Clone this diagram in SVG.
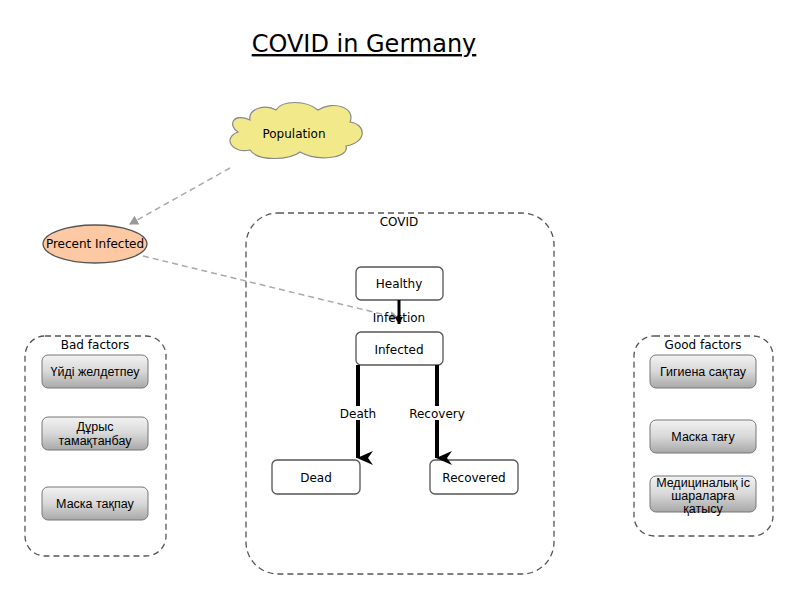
<svg xmlns="http://www.w3.org/2000/svg" width="800" height="594" viewBox="0 0 800 594">
<defs>
<linearGradient id="g" x1="0" y1="0" x2="0" y2="1"><stop offset="0" stop-color="#f2f2f2"/><stop offset="0.5" stop-color="#d8d8d8"/><stop offset="1" stop-color="#a8a8a8"/></linearGradient>
<marker id="ga" markerWidth="10" markerHeight="10" refX="8" refY="5" orient="auto" markerUnits="userSpaceOnUse"><path d="M0,0 L9,5 L0,10 Z" fill="#999"/></marker>
<marker id="ba" markerWidth="14" markerHeight="16" refX="7" refY="15" orient="auto-start-reverse" markerUnits="userSpaceOnUse" viewBox="0 0 14 16"><path d="M0,0 L7,16 L14,0 L7,5 Z" fill="#000"/></marker>
<marker id="sa" markerWidth="8" markerHeight="8" refX="4" refY="7" markerUnits="userSpaceOnUse"><path d="M0,0 L4,7 L8,0 Z" fill="#000"/></marker>
</defs>
<style>
text{font-family:"DejaVu Sans","Liberation Sans",sans-serif;font-size:12px;fill:#000;text-anchor:middle}
.box{fill:#fff;stroke:#555;stroke-width:1.3}
.grp{fill:none;stroke:#555;stroke-width:1.3;stroke-dasharray:6 4}
.btn{fill:url(#g);stroke:#777;stroke-width:1}
.bt{font-family:"Liberation Sans",Arial,sans-serif;font-size:12.5px}
.dash{fill:none;stroke:#aaa;stroke-width:1.5;stroke-dasharray:6 4}
.thick{fill:none;stroke:#000;stroke-width:4}
</style>
<text x="364" y="52" style="font-size:24px;text-decoration:underline">COVID in Germany</text>
<g id="covid"><rect class="grp" x="246" y="213" width="308" height="361" rx="32"/><text x="399" y="226">COVID</text></g>
<g id="bad"><rect class="grp" x="25" y="336" width="141" height="220" rx="20"/><text x="95" y="349">Bad factors</text></g>
<g id="good"><rect class="grp" x="634" y="336" width="139" height="200" rx="20"/><text x="703" y="349">Good factors</text></g>
<g id="population"><path d="M250,120 C232,112 228,126 238,132 C222,138 232,154 250,150 C258,162 290,160 300,152 C318,162 350,158 346,146 C368,142 366,124 350,122 C356,108 334,100 318,110 C306,100 282,100 276,110 C266,104 248,108 250,120 Z" fill="#f2e98a" stroke="#888" stroke-width="1.2"/><text x="294" y="138">Population</text></g>
<g id="precent"><ellipse cx="95" cy="244" rx="52" ry="19" fill="#fcc9a4" stroke="#555" stroke-width="1.3"/><text x="95" y="248">Precent Infected</text></g>
<g id="healthy"><rect class="box" x="356" y="267" width="87" height="33" rx="5"/><text x="399" y="288">Healthy</text></g>
<g id="infected"><rect class="box" x="356" y="332" width="87" height="33" rx="5"/><text x="399" y="354">Infected</text></g>
<g id="dead"><rect class="box" x="272" y="460" width="88" height="34" rx="5"/><text x="316" y="482">Dead</text></g>
<g id="recovered"><rect class="box" x="430" y="460" width="88" height="34" rx="5"/><text x="474" y="482">Recovered</text></g>
<g id="b1"><rect class="btn" x="42" y="355" width="106" height="33" rx="6"/><text class="bt" x="95" y="376">Үйді желдетпеу</text></g>
<g id="b2"><rect class="btn" x="42" y="417" width="106" height="33" rx="6"/><text class="bt" x="95" y="431">Дұрыс</text><text class="bt" x="95" y="445">тамақтанбау</text></g>
<g id="b3"><rect class="btn" x="42" y="487" width="106" height="33" rx="6"/><text class="bt" x="95" y="508">Маска тақпау</text></g>
<g id="g1"><rect class="btn" x="650" y="355" width="106" height="33" rx="6"/><text class="bt" x="703" y="376">Гигиена сақтау</text></g>
<g id="g2"><rect class="btn" x="650" y="420" width="106" height="33" rx="6"/><text class="bt" x="703" y="441">Маска тағу</text></g>
<g id="g3"><rect class="btn" x="650" y="476" width="106" height="36" rx="6"/><text class="bt" x="703" y="487">Медициналық іс</text><text class="bt" x="703" y="500">шараларға</text><text class="bt" x="703" y="513">қатысу</text></g>
<g id="connectors">
<path class="dash" d="M230,168 L130,224" marker-end="url(#ga)"/>
<path class="dash" d="M143,256 L398,318" marker-end="url(#ga)"/>
<path d="M399,300 L399,324" stroke="#000" stroke-width="3" marker-end="url(#sa)"/>
<text x="399" y="322" style="font-size:12px">Infection</text>
<path class="thick" d="M358,365 L358,458" marker-end="url(#ba)"/>
<path class="thick" d="M437,365 L437,458" marker-end="url(#ba)"/>
<rect x="337" y="406" width="42" height="14" fill="#fff"/><text x="358" y="418">Death</text>
<rect x="409" y="406" width="56" height="14" fill="#fff"/><text x="437" y="418">Recovery</text>
</g>
</svg>
